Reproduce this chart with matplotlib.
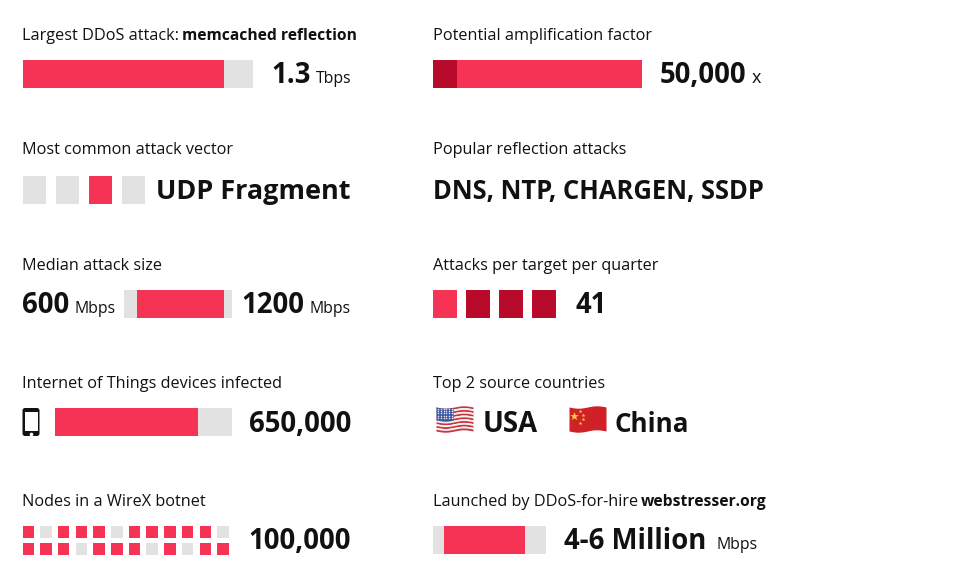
import matplotlib.pyplot as plt
import numpy as np
from matplotlib.patches import FancyBboxPatch, Rectangle

# Values
largest_attack = 1.3
largest_scale = (0, 1.49)
amplification = 50000
amplification_dark = 5700
median_sizes = [600, 1200]
median_scale = (510, 1255)
iot_devices = 650000
iot_scale = (0, 805000)
webstresser = [4, 6]
webstresser_scale = (3.73, 6.52)
vector_cells = [0, 0, 1, 0]
target_cells = [1, 2, 2, 2]
wirex_top = [1, 0, 1, 1, 1, 0, 1, 1, 1, 1, 1, 0]
wirex_bottom = [1, 1, 1, 0, 1, 1, 1, 0, 1, 0, 1, 1]

RED = '#f63354'
DARK = '#b80b2c'
GREY = '#e2e2e2'
INK = '#111111'
BIG = 27.5
TITLE = 16.2
TITLE_BOLD = 15.6
UNIT = 15.8
cell_colors = {0: GREY, 1: RED, 2: DARK}

plt.rcParams['font.family'] = ['Open Sans', 'DejaVu Sans']
fig = plt.figure(figsize=(9.6, 5.73), dpi=100)
ax = fig.add_axes([0, 0, 1, 1])
ax.set_xlim(0, 960)
ax.set_ylim(573, 0)
ax.axis('off')


def put_runs(x, y, runs, right=False):
    """Puts text pieces one after the other on a baseline, sizes in px."""
    renderer = fig.canvas.get_renderer()
    items = []
    total = 0
    for text, size, weight, gap in runs:
        t = ax.text(x, y, text, fontsize=size * 0.72, fontweight=weight, color=INK,
                    va='baseline', ha='left')
        w = t.get_window_extent(renderer).width
        items.append((t, w, gap))
        total += w + gap
    pos = x - total if right else x
    for t, w, gap in items:
        t.set_x(pos)
        pos += w + gap


def title(x, y, text, bold=None):
    runs = [(text, TITLE, 'normal', 3 if bold else 0)]
    if bold:
        runs.append((bold, TITLE_BOLD, 'bold', 0))
    put_runs(x, y, runs)


def scale_bar(x0, x1, y0, y1, scale, lo, hi, color=RED, ground=True):
    k = (x1 - x0) / (scale[1] - scale[0])
    if ground:
        ax.barh((y0 + y1) / 2, x1 - x0, height=y1 - y0, left=x0, color=GREY, linewidth=0)
    ax.barh((y0 + y1) / 2, (hi - lo) * k, height=y1 - y0, left=x0 + (lo - scale[0]) * k,
            color=color, linewidth=0)


def cells(x0, y0, w, h, pitch, states):
    for i, s in enumerate(states):
        ax.add_patch(Rectangle((x0 + i * pitch, y0), w, h, color=cell_colors[s], linewidth=0))


def wavy_flag(x0, x1):
    xs = np.linspace(x0, x1, 40)
    wave = 1.2 * np.sin((xs - x0) / (x1 - x0) * 2 * np.pi)
    return xs, wave


def usa_flag(x0, x1, y0, y1):
    xs, wave = wavy_flag(x0, x1)
    h = (y1 - y0) / 13
    for i in range(13):
        c = '#c8343f' if i % 2 == 0 else '#f3f0f0'
        ax.fill_between(xs, y0 + i * h + wave, y0 + (i + 1) * h + wave, color=c, linewidth=0)
    keep = xs <= x0 + (x1 - x0) * 0.47
    ax.fill_between(xs[keep], y0 + wave[keep], y0 + 7 * h + wave[keep], color='#3f5a9e', linewidth=0)
    sx, sy = np.meshgrid(np.linspace(x0 + 2, x0 + (x1 - x0) * 0.43, 6), np.linspace(y0 + 1.5, y0 + 7 * h - 1.5, 5))
    ax.scatter(sx.ravel(), sy.ravel(), s=1.2, color='#dfe4f2', linewidths=0, zorder=3)


def china_flag(x0, x1, y0, y1):
    xs, wave = wavy_flag(x0, x1)
    ax.fill_between(xs, y0 + wave, y1 + wave, color='#cf2127', linewidth=0)
    ax.scatter([x0 + 5], [y0 + 9], s=42, marker='*', color='#f7d13f', linewidths=0, zorder=3)
    ax.scatter([x0 + 11, x0 + 14, x0 + 14, x0 + 11], [y0 + 4, y0 + 8, y0 + 12, y0 + 16],
               s=8, marker='*', color='#f7d13f', linewidths=0, zorder=3)


# Left column
title(22, 40, 'Largest DDoS attack:', 'memcached reflection')
scale_bar(22.5, 253, 60, 88, largest_scale, 0, largest_attack)
put_runs(351, 83, [(str(largest_attack), BIG, 'bold', 5), ('Tbps', UNIT, 'normal', 0)], right=True)

title(22, 154, 'Most common attack vector')
cells(22.5, 176, 23.5, 28, 33, vector_cells)
put_runs(351, 199, [('UDP Fragment', 27, 'bold', 0)], right=True)

title(22, 270, 'Median attack size')
put_runs(22, 313, [(str(median_sizes[0]), BIG, 'bold', 5), ('Mbps', UNIT, 'normal', 0)])
scale_bar(124, 232, 290, 318, median_scale, median_sizes[0], median_sizes[1])
put_runs(351, 313, [(str(median_sizes[1]), BIG, 'bold', 5), ('Mbps', UNIT, 'normal', 0)], right=True)

title(22, 388, 'Internet of Things devices infected')
ax.add_patch(FancyBboxPatch((24, 409.5), 14, 25, boxstyle='round,pad=1.5,rounding_size=2.5',
                            facecolor='#111111', edgecolor='none'))
ax.add_patch(Rectangle((24.5, 412), 13, 19, color='white', linewidth=0))
ax.scatter([31], [433.5], s=7, color='white', linewidths=0, zorder=3)
scale_bar(55, 232, 408, 436, iot_scale, 0, iot_devices)
put_runs(351, 432, [(f'{iot_devices:,}', BIG, 'bold', 0)], right=True)

title(22, 506, 'Nodes in a WireX botnet')
cells(22.5, 526, 11.5, 11.5, 17.7, wirex_top)
cells(22.5, 543, 11.5, 11.5, 17.7, wirex_bottom)
put_runs(351, 549, [('100,000', BIG, 'bold', 0)], right=True)

# Right column
title(433, 40, 'Potential amplification factor')
scale_bar(433, 642, 60, 88, (0, amplification), 0, amplification, ground=False)
scale_bar(433, 642, 60, 88, (0, amplification), 0, amplification_dark, color=DARK, ground=False)
put_runs(660, 83, [(f'{amplification:,}', BIG, 'bold', 5), ('x', 18, 'normal', 0)])

title(433, 154, 'Popular reflection attacks')
put_runs(433, 199, [('DNS, NTP, CHARGEN, SSDP', 25.6, 'bold', 0)])

title(433, 270, 'Attacks per target per quarter')
cells(433, 290, 23.5, 28, 33, target_cells)
put_runs(575, 313, [('41', BIG, 'bold', 0)])

title(433, 388, 'Top 2 source countries')
usa_flag(436, 473, 407, 431)
put_runs(483, 432, [('USA', BIG, 'bold', 0)])
china_flag(569, 606, 407, 431)
put_runs(614, 432, [('China', 26, 'bold', 0)])

title(433, 506, 'Launched by DDoS-for-hire', 'webstresser.org')
scale_bar(433, 546, 526, 554, webstresser_scale, webstresser[0], webstresser[1])
put_runs(564, 549, [(f'{webstresser[0]}-{webstresser[1]} Million', BIG, 'bold', 10), ('Mbps', UNIT, 'normal', 0)])

fig.savefig('out.png', dpi=100)
